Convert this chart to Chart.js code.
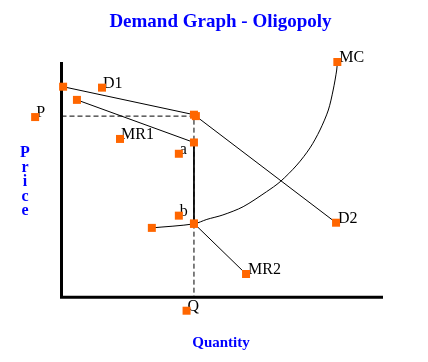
<!DOCTYPE html>
<html>
<head>
<meta charset="utf-8">
<script src="https://cdn.jsdelivr.net/npm/chart.js"></script>
<style>
    body { margin: 0; background: #ffffff; }
    #wrap { width: 428px; height: 362px; position: relative; }
</style>
</head>
<body>
<div id="wrap"><canvas id="oligopoly_chart"></canvas></div>
<script>
// Curves of the kinked demand diagram (quantity 0-100, price 0-100)
const d1Quantity = [0.5, 41.2];
const d1Price = [89.5, 77.6];
const d2Quantity = [41.8, 85.4];
const d2Price = [77.0, 31.7];
const mrQuantity = [4.8, 41.2, 41.2, 57.4];
const mrPrice = [83.9, 65.8, 31.4, 9.9];
const mcQuantity = [28.1, 41.2, 45.2, 50.2, 56.5, 63.8, 68.0, 73.2, 77.3, 80.4, 83.0, 84.5, 85.6, 85.8];
const mcPrice = [29.5, 31.2, 33.1, 35.0, 38.5, 44.9, 49.1, 56.2, 63.5, 71.1, 79.6, 88.1, 96.6, 100.0];

// Price P and quantity Q at the kink (dashed guides)
const eqQuantity = 41.2;
const eqPrice = 77.0;

// Label markers
const markerNames = ["D1", "P", "MR1", "a", "b", "Q"];
const markerQuantity = [12.6, -8.2, 18.2, 36.5, 36.5, 38.9];
const markerPrice = [89.1, 76.6, 67.3, 61.0, 34.7, -5.7];

// Labels at the far end of the curves
const endNames = ["D2", "MR2", "MC"];

// axes run 0..100, the scale goes a bit below so P and Q markers still show
const axisMax = 100;
const xScaleMin = -12;
const yScaleMin = -10;
const orange = "#ff6600";

function toPoints(xs, ys) {
    return xs.map((x, i) => ({ x: x, y: ys[i] }));
}

// Text labels drawn before the datasets so the squares sit on top
const labelPlugin = {
    id: "labelPlugin",
    beforeDatasetsDraw(chart) {
        const ctx = chart.ctx;
        ctx.save();
        ctx.fillStyle = "#000000";
        ctx.font = "16px 'Liberation Serif', 'DejaVu Serif', serif";
        ctx.textAlign = "left";
        ctx.textBaseline = "alphabetic";

        const markerMeta = chart.getDatasetMeta(0);
        markerMeta.data.forEach((pt, i) => {
            ctx.fillText(markerNames[i], pt.x + 1, pt.y);
        });

        // D2, MR, MC datasets
        [2, 3, 1].forEach((dsIndex, i) => {
            const pts = chart.getDatasetMeta(dsIndex).data;
            const last = pts[pts.length - 1];
            ctx.fillText(endNames[i], last.x + 2, last.y);
        });

        // Title and axis titles
        ctx.fillStyle = "#0000ff";
        ctx.textAlign = "center";
        ctx.font = "bold 19px 'Liberation Serif', serif";
        ctx.fillText("Demand Graph - Oligopoly", 220.5, 27);

        ctx.font = "bold 15px 'Liberation Serif', serif";
        ctx.fillText("Quantity", 221, 347);

        ctx.font = "bold 16px 'Liberation Serif', serif";
        "Price".split("").forEach((ch, i) => {
            ctx.fillText(ch, 25, 157 + i * 14.5);
        });
        ctx.restore();
    }
};

const ctx = document.getElementById("oligopoly_chart").getContext("2d");
const oligopoly_chart = new Chart(ctx, {
    type: "scatter",
    data: {
        datasets: [
            {   // label markers
                data: toPoints(markerQuantity, markerPrice),
                showLine: false,
                pointStyle: "rect",
                pointRadius: 5.66,
                pointBorderWidth: 0,
                pointBackgroundColor: orange,
                clip: false
            },
            {   // MC
                data: toPoints(mcQuantity, mcPrice),
                showLine: true,
                borderColor: "#000000",
                borderWidth: 1,
                tension: 0.3,
                pointStyle: "rect",
                pointRadius: c => (c.dataIndex === 0 || c.dataIndex === 1 || c.dataIndex === mcQuantity.length - 1) ? 5.66 : 0,
                pointBorderWidth: 0,
                pointBackgroundColor: orange,
                clip: false
            },
            {   // D2
                data: toPoints(d2Quantity, d2Price),
                showLine: true,
                borderColor: "#000000",
                borderWidth: 1,
                pointStyle: "rect",
                pointRadius: 5.66,
                pointBorderWidth: 0,
                pointBackgroundColor: orange,
                clip: false
            },
            {   // MR1 / MR2
                data: toPoints(mrQuantity, mrPrice),
                showLine: true,
                borderColor: "#000000",
                borderWidth: 1,
                pointStyle: "rect",
                pointRadius: 5.66,
                pointBorderWidth: 0,
                pointBackgroundColor: orange,
                clip: false
            },
            {   // D1
                data: toPoints(d1Quantity, d1Price),
                showLine: true,
                borderColor: "#000000",
                borderWidth: 1,
                pointStyle: "rect",
                pointRadius: 5.66,
                pointBorderWidth: 0,
                pointBackgroundColor: orange,
                clip: false
            },
            {   // dashed guides to P and Q
                data: [
                    { x: 0, y: eqPrice }, { x: eqQuantity, y: eqPrice },
                    { x: eqQuantity, y: 0 }
                ],
                showLine: true,
                borderColor: "#000000",
                borderWidth: 1,
                borderDash: [5, 3],
                pointRadius: 0,
                clip: false
            },
            {   // axes
                data: [{ x: 0, y: axisMax }, { x: 0, y: 0 }, { x: axisMax, y: 0 }],
                showLine: true,
                borderColor: "#000000",
                borderWidth: 3,
                pointRadius: 0,
                clip: false
            }
        ]
    },
    options: {
        responsive: true,
        maintainAspectRatio: false,
        animation: false,
        layout: { padding: { left: 22.92, right: 45, top: 62, bottom: 41.17 } },
        scales: {
            x: { type: "linear", min: xScaleMin, max: axisMax, display: false },
            y: { type: "linear", min: yScaleMin, max: axisMax, display: false }
        },
        plugins: {
            legend: { display: false },
            tooltip: { enabled: false },
            title: { display: false }
        }
    },
    plugins: [labelPlugin]
});
</script>
</body>
</html>
